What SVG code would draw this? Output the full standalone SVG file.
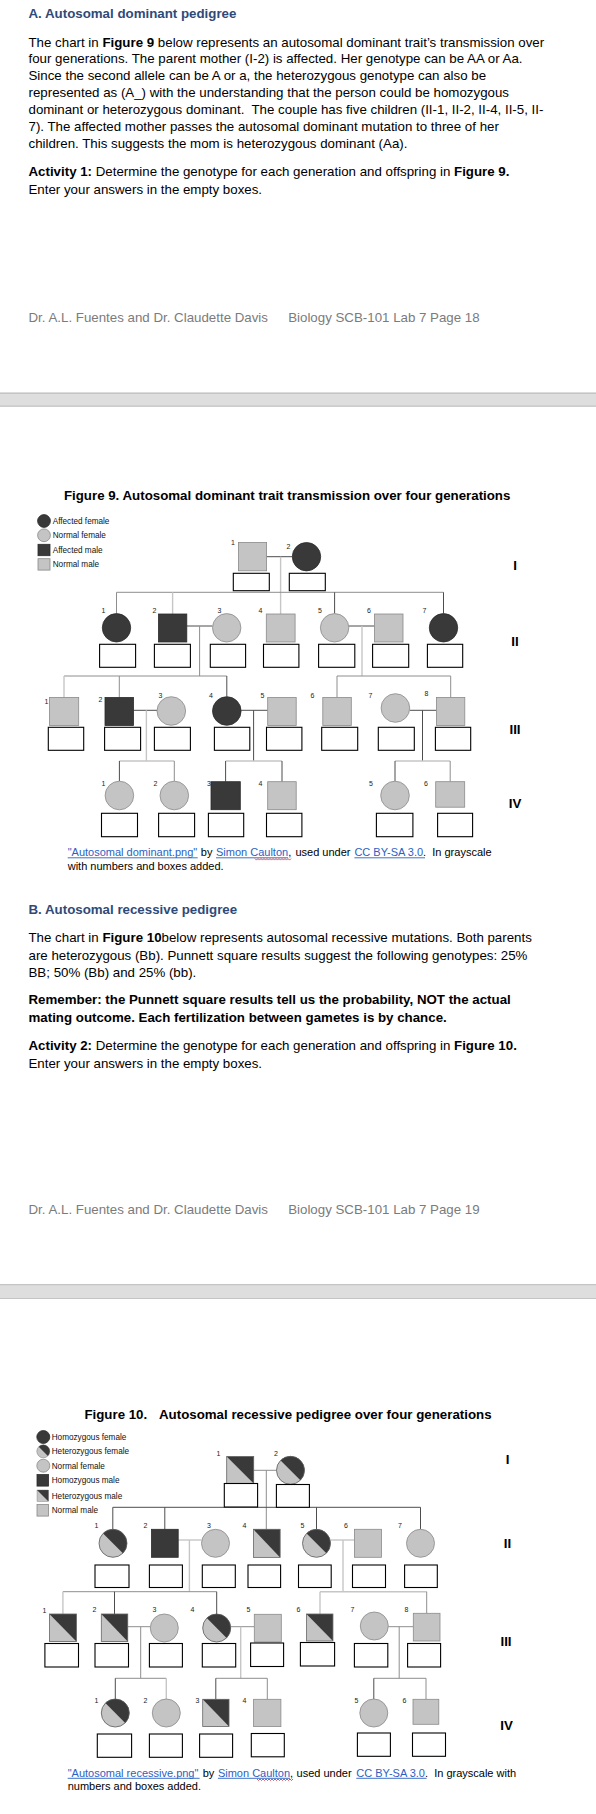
<svg xmlns="http://www.w3.org/2000/svg" xmlns:xlink="http://www.w3.org/1999/xlink" width="596" height="1814" viewBox="0 0 596 1814">
<style>
text{font-family:"Liberation Sans",Arial,sans-serif;}
.t{font-size:13.3px;fill:#000}
.h{font-size:13.3px;font-weight:bold;fill:#2f4a78}
.b{font-weight:bold}
.ft{font-size:13.3px;fill:#7b7b7b}
.cap{font-size:11px;fill:#000}
.lk{fill:#2b61c4}
.lg{font-size:8.2px;fill:#111}
.num{font-size:7px;fill:#222}
.rom{font-size:13.3px;font-weight:bold;text-anchor:middle;fill:#000}
.ttl{font-size:13.3px;font-weight:bold;fill:#000}
.dk{fill:#393939;stroke:#2b2b2b;stroke-width:0.8}
.lt{fill:#c4c4c4;stroke:#8a8a8a;stroke-width:0.8}
.bx{fill:#fff;stroke:#000;stroke-width:1.1}
.cd{stroke:#4d4d4d;stroke-width:1;fill:none}
.cm{stroke:#8e8e8e;stroke-width:1;fill:none}
.cl{stroke:#c6c6c6;stroke-width:1.4;fill:none}
.ul{stroke:#2b61c4;stroke-width:0.9}
.sq{stroke:#d22;stroke-width:0.8;fill:none}
</style>
<defs>
<g id="hc"><circle r="14" fill="#c4c4c4"/><path d="M-9.9,-9.9 A14,14 0 0 1 9.9,9.9 Z" fill="#393939"/><circle r="14" fill="none" stroke="#5a5a5a" stroke-width="0.8"/></g>
<g id="hs"><rect width="27" height="27" fill="#c4c4c4"/><path d="M0,0 H27 V27 Z" fill="#393939"/><rect width="27" height="27" fill="none" stroke="#666" stroke-width="0.8"/></g>
</defs>
<rect width="596" height="1814" fill="#fff"/>

<!-- Page text A -->
<g id="sectionA">
<text class="h" x="28.5" y="18.3">A. Autosomal dominant pedigree</text>
<text class="t" x="28.5" y="46.5">The chart in <tspan class="b">Figure 9</tspan> below represents an autosomal dominant trait’s transmission over</text>
<text class="t" x="28.5" y="63.4">four generations. The parent mother (I-2) is affected. Her genotype can be AA or Aa.</text>
<text class="t" x="28.5" y="80.4">Since the second allele can be A or a, the heterozygous genotype can also be</text>
<text class="t" x="28.5" y="97.3">represented as (A_) with the understanding that the person could be homozygous</text>
<text class="t" x="28.5" y="114.3" xml:space="preserve">dominant or heterozygous dominant.  The couple has five children (II-1, II-2, II-4, II-5, II-</text>
<text class="t" x="28.5" y="131.2">7). The affected mother passes the autosomal dominant mutation to three of her</text>
<text class="t" x="28.5" y="148.2">children. This suggests the mom is heterozygous dominant (Aa).</text>
<text class="t" x="28.5" y="176.2"><tspan class="b">Activity 1:</tspan> Determine the genotype for each generation and offspring in <tspan class="b">Figure 9.</tspan></text>
<text class="t" x="28.5" y="193.8">Enter your answers in the empty boxes.</text>
<text class="ft" x="28.5" y="321.8">Dr. A.L. Fuentes and Dr. Claudette Davis</text>
<text class="ft" x="288.2" y="321.8">Biology SCB-101 Lab 7 Page 18</text>
</g>
<g id="pagebreak1">
<rect x="0" y="392.7" width="596" height="14" fill="#dedede"/>
<line x1="0" y1="393.3" x2="596" y2="393.3" stroke="#c4c4c4" stroke-width="1.4"/>
<line x1="0" y1="406.2" x2="596" y2="406.2" stroke="#c4c4c4" stroke-width="1.2"/>
</g>

<!-- Figure 9 -->
<text class="ttl" x="63.9" y="499.5">Figure 9. Autosomal dominant trait transmission over four generations</text>
<g id="f9-legend">
<circle cx="44" cy="521" r="6.4" class="dk"/>
<circle cx="44" cy="535.3" r="6.4" class="lt" stroke="none"/>
<rect x="38" y="544.3" width="12" height="11.4" class="dk"/>
<rect x="38" y="558.7" width="12" height="11.4" class="lt" stroke="none"/>
<text class="lg" x="52.7" y="523.8">Affected female</text>
<text class="lg" x="52.7" y="538.1">Normal female</text>
<text class="lg" x="52.7" y="552.8">Affected male</text>
<text class="lg" x="52.7" y="567.1">Normal male</text>
</g>
<g id="f9-roman">
<text class="rom" x="515" y="569.5">I</text>
<text class="rom" x="515" y="645.5">II</text>
<text class="rom" x="515" y="733.5">III</text>
<text class="rom" x="515" y="807.5">IV</text>
</g>
<g id="f9-connectors">
<path class="cd" d="M266.6 556.7H292.3"/>
<path class="cl" d="M280.6 556.7V614"/>
<path class="cm" d="M116.5 592.3H443.5"/>
<path class="cm" d="M116.5 592.3V613.6"/>
<path class="cl" d="M172.6 592.3V614"/>
<path class="cd" d="M334.6 592.3V613.6"/>
<path class="cd" d="M443.5 592.3V613.6"/>
<path class="cd" d="M186.8 626H212.5"/>
<path class="cm" d="M199.6 626V676"/>
<path class="cd" d="M348.8 626H374.5"/>
<path class="cl" d="M362 626V676"/>
<path class="cm" d="M64 676H226.8"/>
<path class="cl" d="M64 676V697.5"/>
<path class="cm" d="M119.3 676V697.5"/>
<path class="cd" d="M226.8 676V696.7"/>
<path class="cm" d="M337 676H450.7"/>
<path class="cm" d="M337 676V697.5"/>
<path class="cm" d="M450.7 676V697.5"/>
<path class="cd" d="M133.5 710.3H157"/>
<path class="cl" d="M146.4 710.3V761"/>
<path class="cd" d="M241.1 710.3H267.7"/>
<path class="cd" d="M253.6 710.3V761"/>
<path class="cd" d="M409.7 710.3H436.5"/>
<path class="cd" d="M422.5 710.3V761"/>
<path class="cl" d="M119.4 761H174.3"/>
<path class="cd" d="M119.4 761V781.2"/>
<path class="cm" d="M174.3 761V781.2"/>
<path class="cl" d="M225.6 761H282"/>
<path class="cd" d="M225.6 761V781.7"/>
<path class="cd" d="M282 761V781.7"/>
<path class="cl" d="M395 761H450.2"/>
<path class="cd" d="M395 761V781.2"/>
<path class="cm" d="M450.2 761V781.7"/>
</g>
<g id="f9-I-1"><rect class="lt" x="238.4" y="542.5" width="28.2" height="28.3"/><text class="num" x="231" y="544.5">1</text><rect class="bx" x="233.3" y="573.3" width="36" height="17.4"/></g>
<g id="f9-I-2"><circle class="dk" cx="306.5" cy="556.7" r="14.2"/><text class="num" x="286.5" y="548.5">2</text><rect class="bx" x="289.3" y="573.3" width="36" height="17.4"/></g>
<g id="f9-II-1"><circle class="dk" cx="116.5" cy="627.8" r="14.2"/><text class="num" x="101.5" y="612.5">1</text><rect class="bx" x="99.6" y="644.3" width="36" height="23"/></g>
<g id="f9-II-2"><rect class="dk" x="158.5" y="614" width="28.3" height="28"/><text class="num" x="152.5" y="612.5">2</text><rect class="bx" x="154.4" y="644.3" width="36" height="23"/></g>
<g id="f9-II-3"><circle class="lt" cx="226.7" cy="627.8" r="14.2"/><text class="num" x="217.5" y="612.5">3</text><rect class="bx" x="210.3" y="644.3" width="35.3" height="23"/></g>
<g id="f9-II-4"><rect class="lt" x="266.3" y="614" width="28.8" height="28"/><text class="num" x="258.5" y="612.5">4</text><rect class="bx" x="263.5" y="644.3" width="35.4" height="23"/></g>
<g id="f9-II-5"><circle class="lt" cx="334.6" cy="627.8" r="14.2"/><text class="num" x="318" y="612.5">5</text><rect class="bx" x="318.6" y="644.3" width="36.2" height="23"/></g>
<g id="f9-II-6"><rect class="lt" x="374.5" y="614" width="28.5" height="28"/><text class="num" x="367" y="612.5">6</text><rect class="bx" x="372.6" y="644.3" width="36.1" height="23"/></g>
<g id="f9-II-7"><circle class="dk" cx="443.5" cy="627.8" r="14.2"/><text class="num" x="422.5" y="612.5">7</text><rect class="bx" x="427.4" y="644.3" width="35.3" height="23"/></g>
<g id="f9-III-1"><rect class="lt" x="49.4" y="697.5" width="29.3" height="28"/><text class="num" x="44.5" y="703.5">1</text><rect class="bx" x="48.3" y="727.3" width="35.4" height="23"/></g>
<g id="f9-III-2"><rect class="dk" x="105" y="697.5" width="28.5" height="28"/><text class="num" x="98.5" y="701.5">2</text><rect class="bx" x="104.6" y="727.3" width="36" height="23"/></g>
<g id="f9-III-3"><circle class="lt" cx="171.3" cy="711" r="14.3"/><text class="num" x="158.5" y="697.5">3</text><rect class="bx" x="154.4" y="727.3" width="36" height="23"/></g>
<g id="f9-III-4"><circle class="dk" cx="226.8" cy="711" r="14.3"/><text class="num" x="209" y="697.5">4</text><rect class="bx" x="214.4" y="727.3" width="35.4" height="23"/></g>
<g id="f9-III-5"><rect class="lt" x="267.7" y="697.5" width="28.5" height="28"/><text class="num" x="260.5" y="697.5">5</text><rect class="bx" x="266.5" y="727.3" width="35.4" height="23"/></g>
<g id="f9-III-6"><rect class="lt" x="322.8" y="697.5" width="28.5" height="28"/><text class="num" x="310.5" y="697.5">6</text><rect class="bx" x="321.7" y="727.3" width="36" height="23"/></g>
<g id="f9-III-7"><circle class="lt" cx="395.4" cy="708" r="14.3"/><text class="num" x="368.5" y="697.5">7</text><rect class="bx" x="378.3" y="727.3" width="36" height="23"/></g>
<g id="f9-III-8"><rect class="lt" x="436.5" y="697.5" width="28.3" height="28"/><text class="num" x="424.5" y="695.5">8</text><rect class="bx" x="435.4" y="727.3" width="35.3" height="23"/></g>
<g id="f9-IV-1"><circle class="lt" cx="119.4" cy="795.5" r="14.3"/><text class="num" x="101.5" y="785.5">1</text><rect class="bx" x="101.5" y="813.3" width="36" height="23.4"/></g>
<g id="f9-IV-2"><circle class="lt" cx="174.3" cy="795.5" r="14.3"/><text class="num" x="153.5" y="785.5">2</text><rect class="bx" x="158.6" y="813.3" width="36" height="23.4"/></g>
<g id="f9-IV-3"><rect class="dk" x="211" y="781.7" width="29.3" height="28"/><text class="num" x="207" y="785.5">3</text><rect class="bx" x="208.4" y="813.3" width="35.3" height="23.4"/></g>
<g id="f9-IV-4"><rect class="lt" x="267.7" y="781.7" width="28.5" height="28"/><text class="num" x="258.5" y="785.5">4</text><rect class="bx" x="266.5" y="813.3" width="35.4" height="23.4"/></g>
<g id="f9-IV-5"><circle class="lt" cx="395" cy="795.5" r="14.3"/><text class="num" x="369" y="785.5">5</text><rect class="bx" x="376.4" y="813.3" width="36.5" height="23.4"/></g>
<g id="f9-IV-6"><rect class="lt" x="435.7" y="781.7" width="29" height="25.5"/><text class="num" x="424" y="785.5">6</text><rect class="bx" x="437.6" y="813.3" width="35" height="23.4"/></g>
<g id="f9-caption">
<text class="cap" y="856" xml:space="preserve"><tspan class="lk" x="67.7">"Autosomal dominant.png"</tspan><tspan x="200.8">by</tspan><tspan class="lk" x="216">Simon Caulton</tspan><tspan>,</tspan><tspan x="295.4">used under</tspan><tspan class="lk" x="354.4">CC BY-SA 3.0</tspan><tspan>.  In grayscale</tspan></text>
<text class="cap" x="67.7" y="869.8">with numbers and boxes added.</text>
<line class="ul" x1="67.7" y1="857.8" x2="197.7" y2="857.8"/>
<line class="ul" x1="216" y1="857.8" x2="288" y2="857.8"/>
<line class="ul" x1="354.4" y1="857.8" x2="425" y2="857.8"/>
<path class="sq" d="M255 858.6l1.5 1.5 1.5-1.5 1.5 1.5 1.5-1.5 1.5 1.5 1.5-1.5 1.5 1.5 1.5-1.5 1.5 1.5 1.5-1.5 1.5 1.5 1.5-1.5 1.5 1.5 1.5-1.5 1.5 1.5 1.5-1.5 1.5 1.5 1.5-1.5 1.5 1.5 1.5-1.5 1.5 1.5 1.5-1.5 1.5 1.5 1.5-1.5"/>
</g>

<!-- Section B -->
<g id="sectionB">
<text class="h" x="28.5" y="913.8">B. Autosomal recessive pedigree</text>
<text class="t" x="28.5" y="941.8">The chart in <tspan class="b">Figure 10</tspan>below represents autosomal recessive mutations. Both parents</text>
<text class="t" x="28.5" y="959.5">are heterozygous (Bb). Punnett square results suggest the following genotypes: 25%</text>
<text class="t" x="28.5" y="977">BB; 50% (Bb) and 25% (bb).</text>
<text class="t b" x="28.5" y="1003.8">Remember: the Punnett square results tell us the probability, NOT the actual</text>
<text class="t b" x="28.5" y="1021.8">mating outcome. Each fertilization between gametes is by chance.</text>
<text class="t" x="28.5" y="1050.2"><tspan class="b">Activity 2:</tspan> Determine the genotype for each generation and offspring in <tspan class="b">Figure 10.</tspan></text>
<text class="t" x="28.5" y="1067.8">Enter your answers in the empty boxes.</text>
<text class="ft" x="28.5" y="1213.8">Dr. A.L. Fuentes and Dr. Claudette Davis</text>
<text class="ft" x="288.2" y="1213.8">Biology SCB-101 Lab 7 Page 19</text>
</g>
<g id="pagebreak2">
<rect x="0" y="1284" width="596" height="15" fill="#dedede"/>
<line x1="0" y1="1284.6" x2="596" y2="1284.6" stroke="#c4c4c4" stroke-width="1.4"/>
<line x1="0" y1="1298.5" x2="596" y2="1298.5" stroke="#c4c4c4" stroke-width="1.2"/>
</g>

<!-- Figure 10 -->
<text class="ttl" y="1418.5"><tspan x="84.4">Figure 10.</tspan><tspan x="159">Autosomal recessive pedigree over four generations</tspan></text>
<g id="f10-legend">
<circle cx="43.3" cy="1437" r="6.5" class="dk"/>
<use href="#hc" transform="translate(43.3,1451.3) scale(0.465)"/>
<circle cx="43.3" cy="1465.7" r="6.5" class="lt" stroke="none"/>
<rect x="37" y="1474.6" width="11.5" height="11.5" class="dk"/>
<use href="#hs" transform="translate(37,1490) scale(0.426)"/>
<rect x="37" y="1504.6" width="11.5" height="11.5" class="lt" stroke="none"/>
<text class="lg" x="51.7" y="1439.8">Homozygous female</text>
<text class="lg" x="51.7" y="1454.1">Heterozygous female</text>
<text class="lg" x="51.7" y="1468.5">Normal female</text>
<text class="lg" x="51.7" y="1483.1">Homozygous male</text>
<text class="lg" x="51.7" y="1498.5">Heterozygous male</text>
<text class="lg" x="51.7" y="1513.1">Normal male</text>
</g>
<g id="f10-roman">
<text class="rom" x="507.5" y="1464">I</text>
<text class="rom" x="507.5" y="1548">II</text>
<text class="rom" x="506" y="1646">III</text>
<text class="rom" x="506.5" y="1730">IV</text>
</g>
<g id="f10-connectors">
<path class="cm" d="M253.4 1470.3H276.8"/>
<path class="cm" d="M266.3 1470.3V1529.3"/>
<path class="cd" d="M112.8 1507.3H420.5"/>
<path class="cd" d="M112.8 1507.3V1529.3"/>
<path class="cd" d="M164.8 1507.3V1529.3"/>
<path class="cd" d="M316.5 1507.3V1529.3"/>
<path class="cd" d="M420.5 1507.3V1529.3"/>
<path class="cl" d="M178.2 1540H201.5"/>
<path class="cl" d="M189.4 1540V1591.7"/>
<path class="cl" d="M330.5 1540H354.4"/>
<path class="cl" d="M343 1540V1591.7"/>
<path class="cm" d="M62.9 1591.7H216.7"/>
<path class="cl" d="M62.9 1591.7V1614"/>
<path class="cd" d="M114.5 1591.7V1614"/>
<path class="cd" d="M216.7 1591.7V1614"/>
<path class="cl" d="M320 1591.7H426.7"/>
<path class="cl" d="M320 1591.7V1614"/>
<path class="cm" d="M426.7 1591.7V1613.3"/>
<path class="cm" d="M127.8 1626.7H150.3"/>
<path class="cm" d="M140.7 1626.7V1678.3"/>
<path class="cm" d="M230.7 1626.7H254.3"/>
<path class="cl" d="M240.7 1626.7V1678.3"/>
<path class="cm" d="M388.3 1626.7H413.3"/>
<path class="cm" d="M399.2 1626.7V1678.3"/>
<path class="cm" d="M115.3 1678.3H166.3"/>
<path class="cd" d="M115.3 1678.3V1699"/>
<path class="cl" d="M166.3 1678.3V1699"/>
<path class="cm" d="M215.8 1678.3H267.3"/>
<path class="cd" d="M215.8 1678.3V1699.3"/>
<path class="cm" d="M267.3 1678.3V1699.3"/>
<path class="cm" d="M373.8 1678.3H426"/>
<path class="cd" d="M373.8 1678.3V1699"/>
<path class="cm" d="M426 1678.3V1699.3"/>
</g>
<g id="f10-I-1"><use href="#hs" x="226.7" y="1456.5"/><text class="num" x="216.5" y="1455.5">1</text><rect class="bx" x="224.3" y="1483.5" width="33.3" height="23.5"/></g>
<g id="f10-I-2"><use href="#hc" x="290.5" y="1470.3"/><text class="num" x="274" y="1455.5">2</text><rect class="bx" x="276.4" y="1484.5" width="33" height="22.8"/></g>
<g id="f10-II-1"><use href="#hc" x="113" y="1543.3"/><text class="num" x="94.5" y="1527.5">1</text><rect class="bx" x="95" y="1565" width="34" height="22.5"/></g>
<g id="f10-II-2"><rect class="dk" x="151.5" y="1529.3" width="26.7" height="28"/><text class="num" x="143.5" y="1527.5">2</text><rect class="bx" x="149.4" y="1565" width="33" height="22.5"/></g>
<g id="f10-II-3"><circle class="lt" cx="215.5" cy="1543.3" r="14"/><text class="num" x="207" y="1527.5">3</text><rect class="bx" x="202.3" y="1565" width="33" height="22.5"/></g>
<g id="f10-II-4"><use href="#hs" transform="translate(253.4,1529.3) scale(0.99,1.04)"/><text class="num" x="242.5" y="1527.5">4</text><rect class="bx" x="248" y="1565" width="32.6" height="22.5"/></g>
<g id="f10-II-5"><use href="#hc" x="316.5" y="1543.3"/><text class="num" x="300.5" y="1527.5">5</text><rect class="bx" x="298.5" y="1565" width="32.7" height="22.5"/></g>
<g id="f10-II-6"><rect class="lt" x="354.4" y="1529.3" width="27" height="28"/><text class="num" x="344" y="1527.5">6</text><rect class="bx" x="352.5" y="1565" width="33" height="22.5"/></g>
<g id="f10-II-7"><circle class="lt" cx="420.5" cy="1543.3" r="14"/><text class="num" x="398" y="1527.5">7</text><rect class="bx" x="404.6" y="1565" width="32.7" height="22.5"/></g>
<g id="f10-III-1"><use href="#hs" transform="translate(49.4,1614) scale(1,1.02)"/><text class="num" x="42.5" y="1613">1</text><rect class="bx" x="44.9" y="1643.5" width="33.6" height="23.5"/></g>
<g id="f10-III-2"><use href="#hs" transform="translate(101.3,1614) scale(0.98,1.02)"/><text class="num" x="92.5" y="1612">2</text><rect class="bx" x="95" y="1643.5" width="33.5" height="23.5"/></g>
<g id="f10-III-3"><circle class="lt" cx="164.3" cy="1628" r="14"/><text class="num" x="152.5" y="1612">3</text><rect class="bx" x="149.4" y="1643.5" width="33" height="23.5"/></g>
<g id="f10-III-4"><use href="#hc" x="216.7" y="1628"/><text class="num" x="190.5" y="1612">4</text><rect class="bx" x="202.3" y="1643.5" width="33.4" height="23.5"/></g>
<g id="f10-III-5"><rect class="lt" x="254.3" y="1614.3" width="27" height="27.7"/><text class="num" x="246.5" y="1612">5</text><rect class="bx" x="250.6" y="1643" width="33" height="23.5"/></g>
<g id="f10-III-6"><use href="#hs" transform="translate(306.5,1614) scale(0.98,1)"/><text class="num" x="296.5" y="1612">6</text><rect class="bx" x="300.4" y="1642.5" width="34.2" height="23.5"/></g>
<g id="f10-III-7"><circle class="lt" cx="374.3" cy="1626" r="14"/><text class="num" x="350.5" y="1612">7</text><rect class="bx" x="354.4" y="1643.5" width="33.4" height="23.5"/></g>
<g id="f10-III-8"><rect class="lt" x="413.3" y="1613.3" width="26.7" height="27.7"/><text class="num" x="404.5" y="1612">8</text><rect class="bx" x="407.6" y="1643.5" width="33" height="23.5"/></g>
<g id="f10-IV-1"><use href="#hc" x="115.3" y="1713"/><text class="num" x="94.5" y="1702.5">1</text><rect class="bx" x="97.3" y="1734" width="34.3" height="23.3"/></g>
<g id="f10-IV-2"><circle class="lt" cx="166.3" cy="1713" r="14"/><text class="num" x="143.5" y="1702.5">2</text><rect class="bx" x="149.4" y="1734" width="33" height="23.3"/></g>
<g id="f10-IV-3"><use href="#hs" transform="translate(202.7,1699.3) scale(0.975,1.01)"/><text class="num" x="195.5" y="1702.5">3</text><rect class="bx" x="199.6" y="1734" width="33" height="23.3"/></g>
<g id="f10-IV-4"><rect class="lt" x="253.6" y="1699.3" width="27.3" height="27.3"/><text class="num" x="242.5" y="1702.5">4</text><rect class="bx" x="251.3" y="1733.5" width="33" height="23.3"/></g>
<g id="f10-IV-5"><circle class="lt" cx="373.8" cy="1713" r="14"/><text class="num" x="354.5" y="1702.5">5</text><rect class="bx" x="357.4" y="1733" width="33" height="23.3"/></g>
<g id="f10-IV-6"><rect class="lt" x="413" y="1699.3" width="25.8" height="25"/><text class="num" x="402.5" y="1702.5">6</text><rect class="bx" x="412.5" y="1733" width="33" height="23.3"/></g>
<g id="f10-caption">
<text class="cap" y="1776.5" xml:space="preserve"><tspan class="lk" x="67.7">"Autosomal recessive.png"</tspan><tspan x="202.7">by</tspan><tspan class="lk" x="217.9">Simon Caulton</tspan><tspan>,</tspan><tspan x="296.6">used under</tspan><tspan class="lk" x="356.3">CC BY-SA 3.0</tspan><tspan>.  In grayscale with</tspan></text>
<text class="cap" x="67.7" y="1790">numbers and boxes added.</text>
<line class="ul" x1="67.7" y1="1778.3" x2="199.6" y2="1778.3"/>
<line class="ul" x1="217.9" y1="1778.3" x2="290" y2="1778.3"/>
<line class="ul" x1="356.3" y1="1778.3" x2="426.6" y2="1778.3"/>
<path class="sq" d="M257 1779l1.5 1.5 1.5-1.5 1.5 1.5 1.5-1.5 1.5 1.5 1.5-1.5 1.5 1.5 1.5-1.5 1.5 1.5 1.5-1.5 1.5 1.5 1.5-1.5 1.5 1.5 1.5-1.5 1.5 1.5 1.5-1.5 1.5 1.5 1.5-1.5 1.5 1.5 1.5-1.5 1.5 1.5 1.5-1.5 1.5 1.5 1.5-1.5"/>
</g>
</svg>
